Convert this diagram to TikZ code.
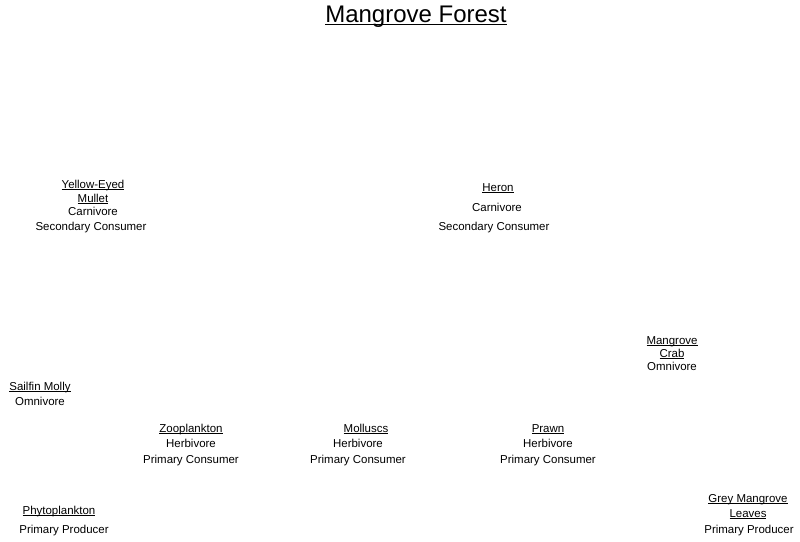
\documentclass[tikz,border=0pt]{standalone}
\usepackage{fontspec}
\setmainfont{Liberation Sans}
\newcommand{\ulx}[1]{\setbox0\hbox{#1}\rlap{\rule[-1.2pt]{\wd0}{0.35pt}}\box0}
\begin{document}
\begin{tikzpicture}[x=0.75pt,y=-0.75pt,
  lbl/.style={inner sep=0pt,anchor=base,font=\fontsize{8.6}{10}\selectfont},
  ttl/.style={inner sep=0pt,anchor=base,font=\fontsize{18}{20}\selectfont}]
\useasboundingbox (0,0) rectangle (800,542);
\node[ttl] (title) at (416,23) {\ulx{Mangrove Forest}};
% Yellow-Eyed Mullet
\node[lbl] (yem1) at (93,188) {\ulx{Yellow-Eyed}};
\node[lbl] (yem2) at (93,202) {\ulx{Mullet}};
\node[lbl] (yem3) at (93,215) {Carnivore};
\node[lbl] (yem4) at (91,230) {Secondary Consumer};
% Heron
\node[lbl] (her1) at (498,191) {\ulx{Heron}};
\node[lbl] (her2) at (497,211) {Carnivore};
\node[lbl] (her3) at (494,230) {Secondary Consumer};
% Mangrove Crab
\node[lbl] (mc1) at (672,344) {\ulx{Mangrove}};
\node[lbl] (mc2) at (672,357) {\ulx{Crab}};
\node[lbl] (mc3) at (672,370) {Omnivore};
% Sailfin Molly
\node[lbl] (sm1) at (40,390) {\ulx{Sailfin Molly}};
\node[lbl] (sm2) at (40,405) {Omnivore};
% Zooplankton
\node[lbl] (zp1) at (191,432) {\ulx{Zooplankton}};
\node[lbl] (zp2) at (191,447) {Herbivore};
\node[lbl] (zp3) at (191,463) {Primary Consumer};
% Molluscs
\node[lbl] (ml1) at (366,432) {\ulx{Molluscs}};
\node[lbl] (ml2) at (358,447) {Herbivore};
\node[lbl] (ml3) at (358,463) {Primary Consumer};
% Prawn
\node[lbl] (pr1) at (548,432) {\ulx{Prawn}};
\node[lbl] (pr2) at (548,447) {Herbivore};
\node[lbl] (pr3) at (548,463) {Primary Consumer};
% Phytoplankton
\node[lbl] (ph1) at (59,514) {\ulx{Phytoplankton}};
\node[lbl] (ph2) at (64,533) {Primary Producer};
% Grey Mangrove Leaves
\node[lbl] (gm1) at (748,502) {\ulx{Grey Mangrove}};
\node[lbl] (gm2) at (748,517) {\ulx{Leaves}};
\node[lbl] (gm3) at (749,533) {Primary Producer};
\end{tikzpicture}
\end{document}
